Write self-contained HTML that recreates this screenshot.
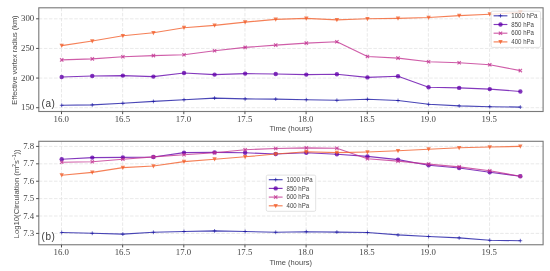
<!DOCTYPE html>
<html><head><meta charset="utf-8"><title>Vortex radius and circulation</title>
<style>
html,body{margin:0;padding:0;background:#fff;}
body{width:550px;height:271px;overflow:hidden;}
svg{display:block;}
text{font-family:"Liberation Sans",Arial,sans-serif;fill:#444;}
.tk{font-size:8.8px;font-family:"Liberation Serif","Times New Roman",serif;}
.lb{font-size:8.1px;fill:#4a4a4a;}
.lg{font-size:6.3px;}
.yl{font-size:8px;fill:#4a4a4a;}
.pl{font-size:10px;fill:#3a3a3a;letter-spacing:0.6px;}
.g{stroke:#e3e3e3;stroke-width:0.8;stroke-dasharray:3.5 1.57;fill:none;}
.t{stroke:#505050;stroke-width:1;}
</style></head>
<body>
<svg width="550" height="271" viewBox="0 0 550 271">
<rect width="550" height="271" fill="#fff"/>
<line x1="61.5" y1="7.8" x2="61.5" y2="111.5" class="g"/>
<line x1="122.65" y1="7.8" x2="122.65" y2="111.5" class="g"/>
<line x1="183.8" y1="7.8" x2="183.8" y2="111.5" class="g"/>
<line x1="244.95" y1="7.8" x2="244.95" y2="111.5" class="g"/>
<line x1="306.1" y1="7.8" x2="306.1" y2="111.5" class="g"/>
<line x1="367.25" y1="7.8" x2="367.25" y2="111.5" class="g"/>
<line x1="428.4" y1="7.8" x2="428.4" y2="111.5" class="g"/>
<line x1="489.55" y1="7.8" x2="489.55" y2="111.5" class="g"/>
<line x1="38.8" y1="18.8" x2="543.1" y2="18.8" class="g"/>
<line x1="38.8" y1="48.43" x2="543.1" y2="48.43" class="g"/>
<line x1="38.8" y1="78.07" x2="543.1" y2="78.07" class="g"/>
<line x1="38.8" y1="107.7" x2="543.1" y2="107.7" class="g"/>
<rect x="40.5" y="98" width="14" height="11" fill="#fff"/>
<text x="41.5" y="106.6" class="pl">(a)</text>
<polyline points="61.7,105.3 92.28,104.9 122.85,103.3 153.42,101.4 184,99.7 214.57,98.1 245.15,98.9 275.72,99.1 306.3,99.7 336.88,100.3 367.45,99.3 398.02,100.5 428.6,104.3 459.17,105.9 489.75,106.7 520.33,107.1" fill="none" stroke="#1612a2" stroke-width="1.15" stroke-linejoin="round" stroke-opacity="0.78"/>
<path d="M59.8 105.3H63.6M61.7 103.4V107.2" stroke="#1612a2" stroke-width="0.8" fill="none" stroke-opacity="0.78"/>
<path d="M90.38 104.9H94.18M92.28 103V106.8" stroke="#1612a2" stroke-width="0.8" fill="none" stroke-opacity="0.78"/>
<path d="M120.95 103.3H124.75M122.85 101.4V105.2" stroke="#1612a2" stroke-width="0.8" fill="none" stroke-opacity="0.78"/>
<path d="M151.52 101.4H155.32M153.42 99.5V103.3" stroke="#1612a2" stroke-width="0.8" fill="none" stroke-opacity="0.78"/>
<path d="M182.1 99.7H185.9M184 97.8V101.6" stroke="#1612a2" stroke-width="0.8" fill="none" stroke-opacity="0.78"/>
<path d="M212.67 98.1H216.47M214.57 96.2V100" stroke="#1612a2" stroke-width="0.8" fill="none" stroke-opacity="0.78"/>
<path d="M243.25 98.9H247.05M245.15 97V100.8" stroke="#1612a2" stroke-width="0.8" fill="none" stroke-opacity="0.78"/>
<path d="M273.82 99.1H277.62M275.72 97.2V101" stroke="#1612a2" stroke-width="0.8" fill="none" stroke-opacity="0.78"/>
<path d="M304.4 99.7H308.2M306.3 97.8V101.6" stroke="#1612a2" stroke-width="0.8" fill="none" stroke-opacity="0.78"/>
<path d="M334.98 100.3H338.77M336.88 98.4V102.2" stroke="#1612a2" stroke-width="0.8" fill="none" stroke-opacity="0.78"/>
<path d="M365.55 99.3H369.35M367.45 97.4V101.2" stroke="#1612a2" stroke-width="0.8" fill="none" stroke-opacity="0.78"/>
<path d="M396.12 100.5H399.92M398.02 98.6V102.4" stroke="#1612a2" stroke-width="0.8" fill="none" stroke-opacity="0.78"/>
<path d="M426.7 104.3H430.5M428.6 102.4V106.2" stroke="#1612a2" stroke-width="0.8" fill="none" stroke-opacity="0.78"/>
<path d="M457.27 105.9H461.07M459.17 104V107.8" stroke="#1612a2" stroke-width="0.8" fill="none" stroke-opacity="0.78"/>
<path d="M487.85 106.7H491.65M489.75 104.8V108.6" stroke="#1612a2" stroke-width="0.8" fill="none" stroke-opacity="0.78"/>
<path d="M518.43 107.1H522.23M520.33 105.2V109" stroke="#1612a2" stroke-width="0.8" fill="none" stroke-opacity="0.78"/>
<polyline points="61.7,77 92.28,76 122.85,75.6 153.42,76.6 184,73 214.57,74.6 245.15,73.6 275.72,74 306.3,74.6 336.88,74.2 367.45,77.4 398.02,76.2 428.6,87.2 459.17,87.9 489.75,89.1 520.33,91.5" fill="none" stroke="#6200aa" stroke-width="1.15" stroke-linejoin="round" stroke-opacity="0.78"/>
<circle cx="61.7" cy="77" r="2.2" fill="#6200aa" fill-opacity="0.78"/>
<circle cx="92.28" cy="76" r="2.2" fill="#6200aa" fill-opacity="0.78"/>
<circle cx="122.85" cy="75.6" r="2.2" fill="#6200aa" fill-opacity="0.78"/>
<circle cx="153.42" cy="76.6" r="2.2" fill="#6200aa" fill-opacity="0.78"/>
<circle cx="184" cy="73" r="2.2" fill="#6200aa" fill-opacity="0.78"/>
<circle cx="214.57" cy="74.6" r="2.2" fill="#6200aa" fill-opacity="0.78"/>
<circle cx="245.15" cy="73.6" r="2.2" fill="#6200aa" fill-opacity="0.78"/>
<circle cx="275.72" cy="74" r="2.2" fill="#6200aa" fill-opacity="0.78"/>
<circle cx="306.3" cy="74.6" r="2.2" fill="#6200aa" fill-opacity="0.78"/>
<circle cx="336.88" cy="74.2" r="2.2" fill="#6200aa" fill-opacity="0.78"/>
<circle cx="367.45" cy="77.4" r="2.2" fill="#6200aa" fill-opacity="0.78"/>
<circle cx="398.02" cy="76.2" r="2.2" fill="#6200aa" fill-opacity="0.78"/>
<circle cx="428.6" cy="87.2" r="2.2" fill="#6200aa" fill-opacity="0.78"/>
<circle cx="459.17" cy="87.9" r="2.2" fill="#6200aa" fill-opacity="0.78"/>
<circle cx="489.75" cy="89.1" r="2.2" fill="#6200aa" fill-opacity="0.78"/>
<circle cx="520.33" cy="91.5" r="2.2" fill="#6200aa" fill-opacity="0.78"/>
<polyline points="61.7,59.9 92.28,58.9 122.85,56.7 153.42,55.6 184,54.7 214.57,50.7 245.15,47.4 275.72,45.1 306.3,43.1 336.88,41.7 367.45,56.5 398.02,58.1 428.6,61.8 459.17,62.7 489.75,64.7 520.33,70.6" fill="none" stroke="#c22f90" stroke-width="1.15" stroke-linejoin="round" stroke-opacity="0.78"/>
<path d="M60.05 58.25L63.35 61.55M60.05 61.55L63.35 58.25" stroke="#c22f90" stroke-width="1.15" fill="none" stroke-opacity="0.78"/>
<path d="M90.62 57.25L93.93 60.55M90.62 60.55L93.93 57.25" stroke="#c22f90" stroke-width="1.15" fill="none" stroke-opacity="0.78"/>
<path d="M121.2 55.05L124.5 58.35M121.2 58.35L124.5 55.05" stroke="#c22f90" stroke-width="1.15" fill="none" stroke-opacity="0.78"/>
<path d="M151.77 53.95L155.07 57.25M151.77 57.25L155.07 53.95" stroke="#c22f90" stroke-width="1.15" fill="none" stroke-opacity="0.78"/>
<path d="M182.35 53.05L185.65 56.35M182.35 56.35L185.65 53.05" stroke="#c22f90" stroke-width="1.15" fill="none" stroke-opacity="0.78"/>
<path d="M212.92 49.05L216.22 52.35M212.92 52.35L216.22 49.05" stroke="#c22f90" stroke-width="1.15" fill="none" stroke-opacity="0.78"/>
<path d="M243.5 45.75L246.8 49.05M243.5 49.05L246.8 45.75" stroke="#c22f90" stroke-width="1.15" fill="none" stroke-opacity="0.78"/>
<path d="M274.07 43.45L277.37 46.75M274.07 46.75L277.37 43.45" stroke="#c22f90" stroke-width="1.15" fill="none" stroke-opacity="0.78"/>
<path d="M304.65 41.45L307.95 44.75M304.65 44.75L307.95 41.45" stroke="#c22f90" stroke-width="1.15" fill="none" stroke-opacity="0.78"/>
<path d="M335.23 40.05L338.52 43.35M335.23 43.35L338.52 40.05" stroke="#c22f90" stroke-width="1.15" fill="none" stroke-opacity="0.78"/>
<path d="M365.8 54.85L369.1 58.15M365.8 58.15L369.1 54.85" stroke="#c22f90" stroke-width="1.15" fill="none" stroke-opacity="0.78"/>
<path d="M396.38 56.45L399.67 59.75M396.38 59.75L399.67 56.45" stroke="#c22f90" stroke-width="1.15" fill="none" stroke-opacity="0.78"/>
<path d="M426.95 60.15L430.25 63.45M426.95 63.45L430.25 60.15" stroke="#c22f90" stroke-width="1.15" fill="none" stroke-opacity="0.78"/>
<path d="M457.52 61.05L460.82 64.35M457.52 64.35L460.82 61.05" stroke="#c22f90" stroke-width="1.15" fill="none" stroke-opacity="0.78"/>
<path d="M488.1 63.05L491.4 66.35M488.1 66.35L491.4 63.05" stroke="#c22f90" stroke-width="1.15" fill="none" stroke-opacity="0.78"/>
<path d="M518.68 68.95L521.98 72.25M518.68 72.25L521.98 68.95" stroke="#c22f90" stroke-width="1.15" fill="none" stroke-opacity="0.78"/>
<polyline points="61.7,45.6 92.28,41 122.85,35.8 153.42,32.8 184,27.7 214.57,25.4 245.15,22.1 275.72,19.4 306.3,18.4 336.88,19.9 367.45,18.8 398.02,18.4 428.6,17.5 459.17,15.6 489.75,14.2 520.33,12.5" fill="none" stroke="#f25c28" stroke-width="1.15" stroke-linejoin="round" stroke-opacity="0.78"/>
<path d="M59.5 43.73H63.9L61.7 48.02Z" fill="#f25c28" fill-opacity="0.78"/>
<path d="M90.08 39.13H94.48L92.28 43.42Z" fill="#f25c28" fill-opacity="0.78"/>
<path d="M120.65 33.93H125.05L122.85 38.22Z" fill="#f25c28" fill-opacity="0.78"/>
<path d="M151.22 30.93H155.62L153.42 35.22Z" fill="#f25c28" fill-opacity="0.78"/>
<path d="M181.8 25.83H186.2L184 30.12Z" fill="#f25c28" fill-opacity="0.78"/>
<path d="M212.38 23.53H216.77L214.57 27.82Z" fill="#f25c28" fill-opacity="0.78"/>
<path d="M242.95 20.23H247.35L245.15 24.52Z" fill="#f25c28" fill-opacity="0.78"/>
<path d="M273.52 17.53H277.92L275.72 21.82Z" fill="#f25c28" fill-opacity="0.78"/>
<path d="M304.1 16.53H308.5L306.3 20.82Z" fill="#f25c28" fill-opacity="0.78"/>
<path d="M334.68 18.03H339.07L336.88 22.32Z" fill="#f25c28" fill-opacity="0.78"/>
<path d="M365.25 16.93H369.65L367.45 21.22Z" fill="#f25c28" fill-opacity="0.78"/>
<path d="M395.82 16.53H400.22L398.02 20.82Z" fill="#f25c28" fill-opacity="0.78"/>
<path d="M426.4 15.63H430.8L428.6 19.92Z" fill="#f25c28" fill-opacity="0.78"/>
<path d="M456.97 13.73H461.37L459.17 18.02Z" fill="#f25c28" fill-opacity="0.78"/>
<path d="M487.55 12.33H491.95L489.75 16.62Z" fill="#f25c28" fill-opacity="0.78"/>
<path d="M518.12 10.63H522.53L520.33 14.92Z" fill="#f25c28" fill-opacity="0.78"/>
<rect x="38.8" y="7.8" width="504.3" height="103.7" fill="none" stroke="#7a7a7a" stroke-width="1.12"/>
<line x1="61.5" y1="111.5" x2="61.5" y2="114.2" class="t"/>
<text transform="translate(61.2 121.6)" class="tk" text-anchor="middle">16.0</text>
<line x1="122.65" y1="111.5" x2="122.65" y2="114.2" class="t"/>
<text transform="translate(122.35 121.6)" class="tk" text-anchor="middle">16.5</text>
<line x1="183.8" y1="111.5" x2="183.8" y2="114.2" class="t"/>
<text transform="translate(183.5 121.6)" class="tk" text-anchor="middle">17.0</text>
<line x1="244.95" y1="111.5" x2="244.95" y2="114.2" class="t"/>
<text transform="translate(244.65 121.6)" class="tk" text-anchor="middle">17.5</text>
<line x1="306.1" y1="111.5" x2="306.1" y2="114.2" class="t"/>
<text transform="translate(305.8 121.6)" class="tk" text-anchor="middle">18.0</text>
<line x1="367.25" y1="111.5" x2="367.25" y2="114.2" class="t"/>
<text transform="translate(366.95 121.6)" class="tk" text-anchor="middle">18.5</text>
<line x1="428.4" y1="111.5" x2="428.4" y2="114.2" class="t"/>
<text transform="translate(428.1 121.6)" class="tk" text-anchor="middle">19.0</text>
<line x1="489.55" y1="111.5" x2="489.55" y2="114.2" class="t"/>
<text transform="translate(489.25 121.6)" class="tk" text-anchor="middle">19.5</text>
<line x1="36.1" y1="18.8" x2="38.8" y2="18.8" class="t"/>
<text transform="translate(34.2 21.4)" class="tk" text-anchor="end">300</text>
<line x1="36.1" y1="48.43" x2="38.8" y2="48.43" class="t"/>
<text transform="translate(34.2 51.03)" class="tk" text-anchor="end">250</text>
<line x1="36.1" y1="78.07" x2="38.8" y2="78.07" class="t"/>
<text transform="translate(34.2 80.67)" class="tk" text-anchor="end">200</text>
<line x1="36.1" y1="107.7" x2="38.8" y2="107.7" class="t"/>
<text transform="translate(34.2 110.3)" class="tk" text-anchor="end">150</text>
<text transform="translate(290.75 131.4) scale(0.931 1)" class="lb" text-anchor="middle">Time (hours)</text>
<text transform="translate(17.1 60.05) rotate(-90) scale(0.924 1)" class="yl" text-anchor="middle">Effective vortex radius (km)</text>
<rect x="491.1" y="11.2" width="49.4" height="36.2" rx="1.5" fill="#fff" fill-opacity="0.8" stroke="#dadada" stroke-width="0.8"/>
<line x1="493.6" y1="15.8" x2="507.4" y2="15.8" stroke="#1612a2" stroke-width="1.15" stroke-opacity="0.78"/>
<path d="M498.6 15.8H502.4M500.5 13.9V17.7" stroke="#1612a2" stroke-width="0.8" fill="none" stroke-opacity="0.78"/>
<text transform="translate(511.3 18) scale(0.97 1)" class="lg">1000 hPa</text>
<line x1="493.6" y1="24.5" x2="507.4" y2="24.5" stroke="#6200aa" stroke-width="1.15" stroke-opacity="0.78"/>
<circle cx="500.5" cy="24.5" r="2.2" fill="#6200aa" fill-opacity="0.78"/>
<text transform="translate(511.3 26.7) scale(0.97 1)" class="lg">850 hPa</text>
<line x1="493.6" y1="33.2" x2="507.4" y2="33.2" stroke="#c22f90" stroke-width="1.15" stroke-opacity="0.78"/>
<path d="M498.85 31.55L502.15 34.85M498.85 34.85L502.15 31.55" stroke="#c22f90" stroke-width="1.15" fill="none" stroke-opacity="0.78"/>
<text transform="translate(511.3 35.4) scale(0.97 1)" class="lg">600 hPa</text>
<line x1="493.6" y1="41.9" x2="507.4" y2="41.9" stroke="#f25c28" stroke-width="1.15" stroke-opacity="0.78"/>
<path d="M498.3 40.03H502.7L500.5 44.32Z" fill="#f25c28" fill-opacity="0.78"/>
<text transform="translate(511.3 44.1) scale(0.97 1)" class="lg">400 hPa</text>
<line x1="61.5" y1="141.3" x2="61.5" y2="244.75" class="g"/>
<line x1="122.65" y1="141.3" x2="122.65" y2="244.75" class="g"/>
<line x1="183.8" y1="141.3" x2="183.8" y2="244.75" class="g"/>
<line x1="244.95" y1="141.3" x2="244.95" y2="244.75" class="g"/>
<line x1="306.1" y1="141.3" x2="306.1" y2="244.75" class="g"/>
<line x1="367.25" y1="141.3" x2="367.25" y2="244.75" class="g"/>
<line x1="428.4" y1="141.3" x2="428.4" y2="244.75" class="g"/>
<line x1="489.55" y1="141.3" x2="489.55" y2="244.75" class="g"/>
<line x1="38.8" y1="146.42" x2="543.1" y2="146.42" class="g"/>
<line x1="38.8" y1="163.82" x2="543.1" y2="163.82" class="g"/>
<line x1="38.8" y1="181.22" x2="543.1" y2="181.22" class="g"/>
<line x1="38.8" y1="198.62" x2="543.1" y2="198.62" class="g"/>
<line x1="38.8" y1="216.02" x2="543.1" y2="216.02" class="g"/>
<line x1="38.8" y1="233.42" x2="543.1" y2="233.42" class="g"/>
<rect x="40.5" y="231.3" width="14" height="11" fill="#fff"/>
<text x="41.5" y="239.9" class="pl">(b)</text>
<polyline points="61.7,232.5 92.28,233.3 122.85,234.1 153.42,232.3 184,231.5 214.57,230.9 245.15,231.5 275.72,232.3 306.3,231.7 336.88,232.1 367.45,232.5 398.02,234.9 428.6,236.5 459.17,237.9 489.75,240.3 520.33,240.7" fill="none" stroke="#1612a2" stroke-width="1.15" stroke-linejoin="round" stroke-opacity="0.78"/>
<path d="M59.8 232.5H63.6M61.7 230.6V234.4" stroke="#1612a2" stroke-width="0.8" fill="none" stroke-opacity="0.78"/>
<path d="M90.38 233.3H94.18M92.28 231.4V235.2" stroke="#1612a2" stroke-width="0.8" fill="none" stroke-opacity="0.78"/>
<path d="M120.95 234.1H124.75M122.85 232.2V236" stroke="#1612a2" stroke-width="0.8" fill="none" stroke-opacity="0.78"/>
<path d="M151.52 232.3H155.32M153.42 230.4V234.2" stroke="#1612a2" stroke-width="0.8" fill="none" stroke-opacity="0.78"/>
<path d="M182.1 231.5H185.9M184 229.6V233.4" stroke="#1612a2" stroke-width="0.8" fill="none" stroke-opacity="0.78"/>
<path d="M212.67 230.9H216.47M214.57 229V232.8" stroke="#1612a2" stroke-width="0.8" fill="none" stroke-opacity="0.78"/>
<path d="M243.25 231.5H247.05M245.15 229.6V233.4" stroke="#1612a2" stroke-width="0.8" fill="none" stroke-opacity="0.78"/>
<path d="M273.82 232.3H277.62M275.72 230.4V234.2" stroke="#1612a2" stroke-width="0.8" fill="none" stroke-opacity="0.78"/>
<path d="M304.4 231.7H308.2M306.3 229.8V233.6" stroke="#1612a2" stroke-width="0.8" fill="none" stroke-opacity="0.78"/>
<path d="M334.98 232.1H338.77M336.88 230.2V234" stroke="#1612a2" stroke-width="0.8" fill="none" stroke-opacity="0.78"/>
<path d="M365.55 232.5H369.35M367.45 230.6V234.4" stroke="#1612a2" stroke-width="0.8" fill="none" stroke-opacity="0.78"/>
<path d="M396.12 234.9H399.92M398.02 233V236.8" stroke="#1612a2" stroke-width="0.8" fill="none" stroke-opacity="0.78"/>
<path d="M426.7 236.5H430.5M428.6 234.6V238.4" stroke="#1612a2" stroke-width="0.8" fill="none" stroke-opacity="0.78"/>
<path d="M457.27 237.9H461.07M459.17 236V239.8" stroke="#1612a2" stroke-width="0.8" fill="none" stroke-opacity="0.78"/>
<path d="M487.85 240.3H491.65M489.75 238.4V242.2" stroke="#1612a2" stroke-width="0.8" fill="none" stroke-opacity="0.78"/>
<path d="M518.43 240.7H522.23M520.33 238.8V242.6" stroke="#1612a2" stroke-width="0.8" fill="none" stroke-opacity="0.78"/>
<polyline points="61.7,159.2 92.28,157.6 122.85,157.4 153.42,157 184,152.6 214.57,152.4 245.15,152.8 275.72,154 306.3,152.8 336.88,154.2 367.45,156.4 398.02,159.6 428.6,165.2 459.17,168 489.75,172.2 520.33,176.2" fill="none" stroke="#6200aa" stroke-width="1.15" stroke-linejoin="round" stroke-opacity="0.78"/>
<circle cx="61.7" cy="159.2" r="2.2" fill="#6200aa" fill-opacity="0.78"/>
<circle cx="92.28" cy="157.6" r="2.2" fill="#6200aa" fill-opacity="0.78"/>
<circle cx="122.85" cy="157.4" r="2.2" fill="#6200aa" fill-opacity="0.78"/>
<circle cx="153.42" cy="157" r="2.2" fill="#6200aa" fill-opacity="0.78"/>
<circle cx="184" cy="152.6" r="2.2" fill="#6200aa" fill-opacity="0.78"/>
<circle cx="214.57" cy="152.4" r="2.2" fill="#6200aa" fill-opacity="0.78"/>
<circle cx="245.15" cy="152.8" r="2.2" fill="#6200aa" fill-opacity="0.78"/>
<circle cx="275.72" cy="154" r="2.2" fill="#6200aa" fill-opacity="0.78"/>
<circle cx="306.3" cy="152.8" r="2.2" fill="#6200aa" fill-opacity="0.78"/>
<circle cx="336.88" cy="154.2" r="2.2" fill="#6200aa" fill-opacity="0.78"/>
<circle cx="367.45" cy="156.4" r="2.2" fill="#6200aa" fill-opacity="0.78"/>
<circle cx="398.02" cy="159.6" r="2.2" fill="#6200aa" fill-opacity="0.78"/>
<circle cx="428.6" cy="165.2" r="2.2" fill="#6200aa" fill-opacity="0.78"/>
<circle cx="459.17" cy="168" r="2.2" fill="#6200aa" fill-opacity="0.78"/>
<circle cx="489.75" cy="172.2" r="2.2" fill="#6200aa" fill-opacity="0.78"/>
<circle cx="520.33" cy="176.2" r="2.2" fill="#6200aa" fill-opacity="0.78"/>
<polyline points="61.7,162.3 92.28,161.7 122.85,159.3 153.42,156.9 184,154.7 214.57,152.7 245.15,149.7 275.72,148.5 306.3,147.9 336.88,148.3 367.45,158.7 398.02,161.1 428.6,164.1 459.17,166.9 489.75,170.7 520.33,176.3" fill="none" stroke="#c22f90" stroke-width="1.15" stroke-linejoin="round" stroke-opacity="0.78"/>
<path d="M60.05 160.65L63.35 163.95M60.05 163.95L63.35 160.65" stroke="#c22f90" stroke-width="1.15" fill="none" stroke-opacity="0.78"/>
<path d="M90.62 160.05L93.93 163.35M90.62 163.35L93.93 160.05" stroke="#c22f90" stroke-width="1.15" fill="none" stroke-opacity="0.78"/>
<path d="M121.2 157.65L124.5 160.95M121.2 160.95L124.5 157.65" stroke="#c22f90" stroke-width="1.15" fill="none" stroke-opacity="0.78"/>
<path d="M151.77 155.25L155.07 158.55M151.77 158.55L155.07 155.25" stroke="#c22f90" stroke-width="1.15" fill="none" stroke-opacity="0.78"/>
<path d="M182.35 153.05L185.65 156.35M182.35 156.35L185.65 153.05" stroke="#c22f90" stroke-width="1.15" fill="none" stroke-opacity="0.78"/>
<path d="M212.92 151.05L216.22 154.35M212.92 154.35L216.22 151.05" stroke="#c22f90" stroke-width="1.15" fill="none" stroke-opacity="0.78"/>
<path d="M243.5 148.05L246.8 151.35M243.5 151.35L246.8 148.05" stroke="#c22f90" stroke-width="1.15" fill="none" stroke-opacity="0.78"/>
<path d="M274.07 146.85L277.37 150.15M274.07 150.15L277.37 146.85" stroke="#c22f90" stroke-width="1.15" fill="none" stroke-opacity="0.78"/>
<path d="M304.65 146.25L307.95 149.55M304.65 149.55L307.95 146.25" stroke="#c22f90" stroke-width="1.15" fill="none" stroke-opacity="0.78"/>
<path d="M335.23 146.65L338.52 149.95M335.23 149.95L338.52 146.65" stroke="#c22f90" stroke-width="1.15" fill="none" stroke-opacity="0.78"/>
<path d="M365.8 157.05L369.1 160.35M365.8 160.35L369.1 157.05" stroke="#c22f90" stroke-width="1.15" fill="none" stroke-opacity="0.78"/>
<path d="M396.38 159.45L399.67 162.75M396.38 162.75L399.67 159.45" stroke="#c22f90" stroke-width="1.15" fill="none" stroke-opacity="0.78"/>
<path d="M426.95 162.45L430.25 165.75M426.95 165.75L430.25 162.45" stroke="#c22f90" stroke-width="1.15" fill="none" stroke-opacity="0.78"/>
<path d="M457.52 165.25L460.82 168.55M457.52 168.55L460.82 165.25" stroke="#c22f90" stroke-width="1.15" fill="none" stroke-opacity="0.78"/>
<path d="M488.1 169.05L491.4 172.35M488.1 172.35L491.4 169.05" stroke="#c22f90" stroke-width="1.15" fill="none" stroke-opacity="0.78"/>
<path d="M518.68 174.65L521.98 177.95M518.68 177.95L521.98 174.65" stroke="#c22f90" stroke-width="1.15" fill="none" stroke-opacity="0.78"/>
<polyline points="61.7,175.2 92.28,172.4 122.85,167.6 153.42,166 184,161.6 214.57,159.2 245.15,156.8 275.72,154 306.3,151.8 336.88,152.6 367.45,152 398.02,150.8 428.6,149.2 459.17,147.8 489.75,147 520.33,146.4" fill="none" stroke="#f25c28" stroke-width="1.15" stroke-linejoin="round" stroke-opacity="0.78"/>
<path d="M59.5 173.33H63.9L61.7 177.62Z" fill="#f25c28" fill-opacity="0.78"/>
<path d="M90.08 170.53H94.48L92.28 174.82Z" fill="#f25c28" fill-opacity="0.78"/>
<path d="M120.65 165.73H125.05L122.85 170.02Z" fill="#f25c28" fill-opacity="0.78"/>
<path d="M151.22 164.13H155.62L153.42 168.42Z" fill="#f25c28" fill-opacity="0.78"/>
<path d="M181.8 159.73H186.2L184 164.02Z" fill="#f25c28" fill-opacity="0.78"/>
<path d="M212.38 157.33H216.77L214.57 161.62Z" fill="#f25c28" fill-opacity="0.78"/>
<path d="M242.95 154.93H247.35L245.15 159.22Z" fill="#f25c28" fill-opacity="0.78"/>
<path d="M273.52 152.13H277.92L275.72 156.42Z" fill="#f25c28" fill-opacity="0.78"/>
<path d="M304.1 149.93H308.5L306.3 154.22Z" fill="#f25c28" fill-opacity="0.78"/>
<path d="M334.68 150.73H339.07L336.88 155.02Z" fill="#f25c28" fill-opacity="0.78"/>
<path d="M365.25 150.13H369.65L367.45 154.42Z" fill="#f25c28" fill-opacity="0.78"/>
<path d="M395.82 148.93H400.22L398.02 153.22Z" fill="#f25c28" fill-opacity="0.78"/>
<path d="M426.4 147.33H430.8L428.6 151.62Z" fill="#f25c28" fill-opacity="0.78"/>
<path d="M456.97 145.93H461.37L459.17 150.22Z" fill="#f25c28" fill-opacity="0.78"/>
<path d="M487.55 145.13H491.95L489.75 149.42Z" fill="#f25c28" fill-opacity="0.78"/>
<path d="M518.12 144.53H522.53L520.33 148.82Z" fill="#f25c28" fill-opacity="0.78"/>
<rect x="38.8" y="141.3" width="504.3" height="103.45" fill="none" stroke="#7a7a7a" stroke-width="1.12"/>
<line x1="61.5" y1="244.75" x2="61.5" y2="247.45" class="t"/>
<text transform="translate(61.2 254.85)" class="tk" text-anchor="middle">16.0</text>
<line x1="122.65" y1="244.75" x2="122.65" y2="247.45" class="t"/>
<text transform="translate(122.35 254.85)" class="tk" text-anchor="middle">16.5</text>
<line x1="183.8" y1="244.75" x2="183.8" y2="247.45" class="t"/>
<text transform="translate(183.5 254.85)" class="tk" text-anchor="middle">17.0</text>
<line x1="244.95" y1="244.75" x2="244.95" y2="247.45" class="t"/>
<text transform="translate(244.65 254.85)" class="tk" text-anchor="middle">17.5</text>
<line x1="306.1" y1="244.75" x2="306.1" y2="247.45" class="t"/>
<text transform="translate(305.8 254.85)" class="tk" text-anchor="middle">18.0</text>
<line x1="367.25" y1="244.75" x2="367.25" y2="247.45" class="t"/>
<text transform="translate(366.95 254.85)" class="tk" text-anchor="middle">18.5</text>
<line x1="428.4" y1="244.75" x2="428.4" y2="247.45" class="t"/>
<text transform="translate(428.1 254.85)" class="tk" text-anchor="middle">19.0</text>
<line x1="489.55" y1="244.75" x2="489.55" y2="247.45" class="t"/>
<text transform="translate(489.25 254.85)" class="tk" text-anchor="middle">19.5</text>
<line x1="36.1" y1="146.42" x2="38.8" y2="146.42" class="t"/>
<text transform="translate(34.2 149.02)" class="tk" text-anchor="end">7.8</text>
<line x1="36.1" y1="163.82" x2="38.8" y2="163.82" class="t"/>
<text transform="translate(34.2 166.42)" class="tk" text-anchor="end">7.7</text>
<line x1="36.1" y1="181.22" x2="38.8" y2="181.22" class="t"/>
<text transform="translate(34.2 183.82)" class="tk" text-anchor="end">7.6</text>
<line x1="36.1" y1="198.62" x2="38.8" y2="198.62" class="t"/>
<text transform="translate(34.2 201.22)" class="tk" text-anchor="end">7.5</text>
<line x1="36.1" y1="216.02" x2="38.8" y2="216.02" class="t"/>
<text transform="translate(34.2 218.62)" class="tk" text-anchor="end">7.4</text>
<line x1="36.1" y1="233.42" x2="38.8" y2="233.42" class="t"/>
<text transform="translate(34.2 236.02)" class="tk" text-anchor="end">7.3</text>
<text transform="translate(290.75 264.65) scale(0.931 1)" class="lb" text-anchor="middle">Time (hours)</text>
<text transform="translate(18.5 193.9) rotate(-90) scale(0.968 1)" class="yl" text-anchor="middle">Log10(Circulation (m<tspan dy="-2.2" font-size="5">2</tspan><tspan dy="2.2">s</tspan><tspan dy="-2.2" font-size="5">−1</tspan><tspan dy="2.2">))</tspan></text>
<rect x="266.3" y="175.1" width="49.4" height="36.2" rx="1.5" fill="#fff" fill-opacity="0.8" stroke="#dadada" stroke-width="0.8"/>
<line x1="268.8" y1="179.7" x2="282.6" y2="179.7" stroke="#1612a2" stroke-width="1.15" stroke-opacity="0.78"/>
<path d="M273.8 179.7H277.6M275.7 177.8V181.6" stroke="#1612a2" stroke-width="0.8" fill="none" stroke-opacity="0.78"/>
<text transform="translate(286.5 181.9) scale(0.97 1)" class="lg">1000 hPa</text>
<line x1="268.8" y1="188.4" x2="282.6" y2="188.4" stroke="#6200aa" stroke-width="1.15" stroke-opacity="0.78"/>
<circle cx="275.7" cy="188.4" r="2.2" fill="#6200aa" fill-opacity="0.78"/>
<text transform="translate(286.5 190.6) scale(0.97 1)" class="lg">850 hPa</text>
<line x1="268.8" y1="197.1" x2="282.6" y2="197.1" stroke="#c22f90" stroke-width="1.15" stroke-opacity="0.78"/>
<path d="M274.05 195.45L277.35 198.75M274.05 198.75L277.35 195.45" stroke="#c22f90" stroke-width="1.15" fill="none" stroke-opacity="0.78"/>
<text transform="translate(286.5 199.3) scale(0.97 1)" class="lg">600 hPa</text>
<line x1="268.8" y1="205.8" x2="282.6" y2="205.8" stroke="#f25c28" stroke-width="1.15" stroke-opacity="0.78"/>
<path d="M273.5 203.93H277.9L275.7 208.22Z" fill="#f25c28" fill-opacity="0.78"/>
<text transform="translate(286.5 208) scale(0.97 1)" class="lg">400 hPa</text>
</svg>
</body></html>
